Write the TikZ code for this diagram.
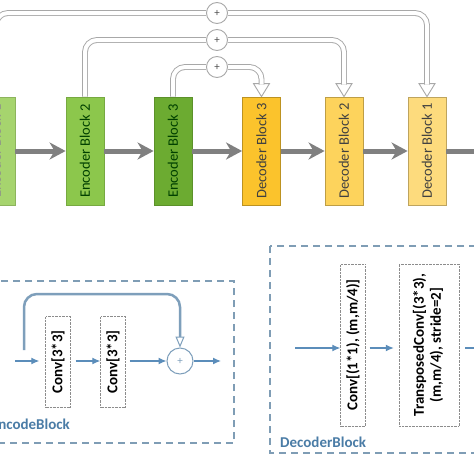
\documentclass[tikz,border=0pt]{standalone}
\usepackage{fontspec}
\setmainfont{Carlito}
\usetikzlibrary{arrows.meta,backgrounds,calc}
\definecolor{encA}{HTML}{A6D46E}
\definecolor{encB}{HTML}{8CC74C}
\definecolor{encC}{HTML}{6CAB31}
\definecolor{decC}{HTML}{FBC32C}
\definecolor{decB}{HTML}{FDD35C}
\definecolor{decA}{HTML}{FDDB7D}
\definecolor{flowgray}{HTML}{808080}
\definecolor{tubegray}{HTML}{A8A8A8}
\definecolor{bluearrow}{HTML}{5B8DBA}
\definecolor{blueskip}{HTML}{7E9FBB}
\definecolor{framecol}{HTML}{7F9DB5}
\definecolor{labelblue}{HTML}{4A7CA6}
\tikzset{
  block/.style={draw, line width=0.8pt, minimum width=38pt, minimum height=108pt, inner sep=0pt,
    font=\fontsize{14.5}{16}\selectfont},
  flow/.style={draw=flowgray, line width=5pt, -{Stealth[length=16pt,width=17pt,inset=5pt]}},
  tube/.style={draw=tubegray, line width=0.9pt, double=white, double distance=4pt, rounded corners=12pt},
  tubehead/.style={fill=white, draw=tubegray, line width=0.9pt},
  plus/.style={circle, draw=tubegray, fill=white, line width=0.9pt, minimum size=21pt, inner sep=0pt,
    font=\fontsize{11}{11}\selectfont, text=black!70},
  opbox/.style={draw=black!45, densely dotted, minimum width=25pt, inner sep=0pt,
    font=\bfseries\fontsize{15}{17}\selectfont},
  bflow/.style={draw=bluearrow, line width=1.2pt, -{Latex[length=8pt,width=7pt]}},
  bskip/.style={draw=blueskip, line width=2.5pt, rounded corners=13pt,
    -{Triangle[open,length=11pt,width=9pt,line width=1pt]}},
  frame/.style={draw=framecol, line width=1.1pt, dash pattern=on 7pt off 5pt},
  blocklabel/.style={text=labelblue, font=\bfseries\fontsize{15}{17}\selectfont, inner sep=0pt}
}
\begin{document}
\begin{tikzpicture}[x=1pt,y=-1pt]
\useasboundingbox (0,0) rectangle (474,474);
\clip (0,0) rectangle (474,474);

\node[block, fill=encA, draw=encA!85!black, text=black!45] (enc1) at (-4,151) {\rotatebox{90}{Encoder Block 1}};
\node[block, fill=encB, draw=encB!85!black, text=green!25!black] (enc2) at (85,151) {\rotatebox{90}{Encoder Block 2}};
\node[block, fill=encC, draw=encC!85!black, text=green!25!black] (enc3) at (173,151) {\rotatebox{90}{Encoder Block 3}};
\node[block, fill=decC, draw=decC!75!black, text=black!75] (dec3) at (261.5,151) {\rotatebox{90}{Decoder Block 3}};
\node[block, fill=decB, draw=decB!75!black, text=black!75] (dec2) at (344,151) {\rotatebox{90}{Decoder Block 2}};
\node[block, fill=decA, draw=decA!75!black, text=black!75] (dec1) at (427,151) {\rotatebox{90}{Decoder Block 1}};
\coordinate (out) at (490,151);

\draw[flow] (enc1) -- (enc2);
\draw[flow] (enc2) -- (enc3);
\draw[flow] (enc3) -- (dec3);
\draw[flow] (dec3) -- (dec2);
\draw[flow] (dec2) -- (dec1);
\draw[draw=flowgray, line width=5pt] (dec1) -- (out);

\node[plus] (p1) at (217,13) {+};
\node[plus] (p2) at (217,40) {+};
\node[plus] (p3) at (217,67) {+};

\begin{scope}[on background layer]
  \fill[white] (0,0) rectangle (474,474);
  \foreach \d in {dec1,dec2,dec3}
    \filldraw[tubehead] ($(\d.north)+(-8,-13)$) -- (\d.north) -- ($(\d.north)+(8,-13)$) -- cycle;
  \draw[tube] (enc3.north) |- (p3) -| ($(dec3.north)+(0,-12)$);
  \draw[tube] (enc2.north) |- (p2) -| ($(dec2.north)+(0,-12)$);
  \draw[tube] (enc1.north) |- (p1) -| ($(dec1.north)+(0,-12)$);
\end{scope}

% encode block
\draw[frame] (-20,281) rectangle (234,443);
\node[blocklabel, anchor=base east] (enclabel) at (70,429) {EncodeBlock};
\coordinate (ein) at (15,361);
\coordinate (eskip) at (24,350);
\coordinate (etop) at (180,294);
\coordinate (eout) at (221,361);
\node[opbox, minimum height=91pt] (c1) at (58,362) {\rotatebox{90}{Conv[3*3]}};
\node[opbox, minimum height=91pt] (c2) at (113,362) {\rotatebox{90}{Conv[3*3]}};
\node[circle, draw=blueskip, line width=1pt, minimum size=26pt, inner sep=0pt, text=blueskip,
  font=\fontsize{11}{11}\selectfont] (add) at (180,361) {+};
\draw[bflow, shorten >=6pt] (ein) -- (ein -| c1.west);
\draw[bflow, shorten <=5pt] (c1.east |- ein) -- (c2.west |- ein);
\draw[bflow, shorten <=4pt] (c2.east |- ein) -- (add);
\draw[bflow] (add) -- (eout);
\draw[bskip] (eskip) |- (etop) -- (add.north);

% decoder block
\draw[frame] (270,246) rectangle (490,453);
\node[blocklabel, anchor=base west] (declabel) at (280,447) {DecoderBlock};
\coordinate (din) at (295,348);
\coordinate (dout) at (490,348);
\node[opbox, minimum height=162pt] (d1) at (353,345) {\rotatebox{90}{Conv[(1*1), (m,m/4)]}};
\node[opbox, minimum width=60pt, minimum height=162pt] (d2) at (429,345)
  {\rotatebox{90}{\begin{tabular}{@{}c@{}}TransposedConv[(3*3),\\(m,m/4), stride=2]\end{tabular}}};
\draw[bflow] (din) -- (din -| d1.west);
\draw[bflow, shorten <=4pt, shorten >=5pt] (d1.east |- din) -- (d2.west |- din);
\draw[draw=bluearrow, line width=1.2pt, shorten <=6pt] (d2.east |- din) -- (dout);
\end{tikzpicture}
\end{document}
